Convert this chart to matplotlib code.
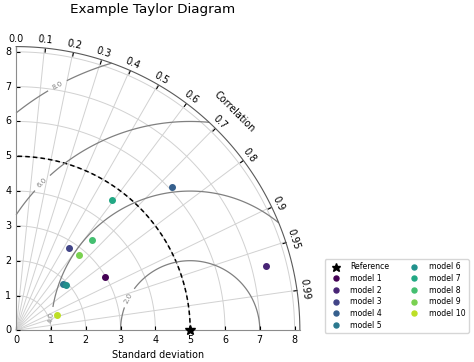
import numpy as np
import matplotlib
matplotlib.use('Agg')
import matplotlib.pyplot as plt
from matplotlib.projections import PolarAxes
import mpl_toolkits.axisartist.floating_axes as FA
import mpl_toolkits.axisartist.grid_finder as GF

# values
ref_std = 5.0
model_names = ['model 1', 'model 2', 'model 3', 'model 4', 'model 5',
               'model 6', 'model 7', 'model 8', 'model 9', 'model 10']
model_std = [2.98, 7.41, 2.82, 6.08, 1.90, 1.93, 4.65, 3.38, 2.82, 1.25]
model_corr = [0.859, 0.968, 0.539, 0.735, 0.708, 0.736, 0.593, 0.644, 0.645, 0.937]
corr_ticks = [0.0, 0.1, 0.2, 0.3, 0.4, 0.5, 0.6, 0.7, 0.8, 0.9, 0.95, 0.99]
std_ticks = [0, 1, 2, 3, 4, 5, 6, 7, 8]
rms_levels = [2, 4, 6, 8]
# where the contour labels sit (theta, r)
rms_label_pos = [(0.283, 3.36), (0.366, 1.045), (1.395, 4.30), (1.406, 7.15)]

smax = 1.1 * max(model_std)

fig = plt.figure(figsize=(4.74, 3.62), dpi=100)

tr = PolarAxes.PolarTransform(apply_theta_transforms=False)
tlocs = np.arccos(corr_ticks)
gl1 = GF.FixedLocator(tlocs)
tf1 = GF.DictFormatter(dict(zip(tlocs, [str(c) for c in corr_ticks])))
gl2 = GF.FixedLocator(std_ticks)
tf2 = GF.DictFormatter({s: str(s) for s in std_ticks})
ghelper = FA.GridHelperCurveLinear(tr, extremes=(0, np.pi / 2, 0, smax),
                                   grid_locator1=gl1, tick_formatter1=tf1,
                                   grid_locator2=gl2, tick_formatter2=tf2)

ax = fig.add_axes([13.3 / 474, 28.7 / 362, 289.4 / 474, 289.7 / 362],
                  axes_class=FA.FloatingAxes, grid_helper=ghelper)

fs = 6.9
ax.axis["top"].set_axis_direction("bottom")
ax.axis["top"].toggle(ticklabels=True, label=True)
ax.axis["top"].major_ticklabels.set_axis_direction("top")
ax.axis["top"].label.set_axis_direction("top")
ax.axis["top"].label.set_text("Correlation")
ax.axis["left"].set_axis_direction("bottom")
ax.axis["left"].label.set_text("Standard deviation")
ax.axis["right"].set_axis_direction("top")
ax.axis["right"].toggle(ticklabels=True)
ax.axis["right"].major_ticklabels.set_axis_direction("left")
ax.axis["bottom"].set_visible(False)
for side in ["top", "left", "right"]:
    ax.axis[side].major_ticklabels.set_fontsize(fs)
    ax.axis[side].label.set_fontsize(fs)
    ax.axis[side].major_ticks.set_ticksize(3)
ax.axis["top"].line.set_color('0.35')
ax.axis["left"].line.set_color('0.55')
ax.axis["right"].line.set_color('0.55')
ax.grid(True, color='0.82', linewidth=0.7)

aux = ax.get_aux_axes(tr)

t = np.linspace(0, np.pi / 2, 100)
aux.plot(t, np.full_like(t, ref_std), 'k--', lw=1.1, dashes=(3, 2))
ref_pt, = aux.plot([0], [ref_std], 'k*', ls='', ms=7, label='Reference', clip_on=False, zorder=5)

rs, ts = np.meshgrid(np.linspace(0, smax, 200), np.linspace(0, np.pi / 2, 200))
rms = np.sqrt(ref_std ** 2 + rs ** 2 - 2 * ref_std * rs * np.cos(ts))
cs = aux.contour(ts, rs, rms, rms_levels, colors='0.5', linewidths=0.9)
aux.clabel(cs, inline=True, fontsize=5, fmt='%.1f', manual=rms_label_pos)

colors = plt.cm.viridis(np.linspace(0, 0.9, len(model_names)))
handles = [ref_pt]
for name, s, c, col in zip(model_names, model_std, model_corr, colors):
    h, = aux.plot(np.arccos(c), s, 'o', ms=4.0, color=col, ls='', label=name, zorder=4)
    handles.append(h)

fig.text(153 / 474, 1 - 3 / 362, 'Example Taylor Diagram', ha='center', va='top', fontsize=9.7)

fig.legend(handles, [h.get_label() for h in handles], ncol=2, numpoints=1,
           loc='lower right', bbox_to_anchor=(469 / 474, 29 / 362), fontsize=5.6,
           borderaxespad=0, labelspacing=0.35, handletextpad=0.9, columnspacing=2.2,
           markerscale=0.9)

fig.savefig('out.png', dpi=100)
